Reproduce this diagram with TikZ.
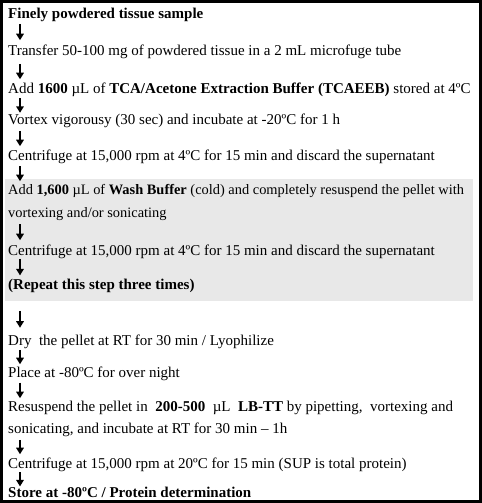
\documentclass[tikz,border=0pt]{standalone}
\usepackage{fontspec}
\setmainfont{Liberation Serif}
\usetikzlibrary{arrows.meta}
\definecolor{washgray}{RGB}{232,232,232}
\tikzset{
  stepnode/.style={anchor=base west, inner sep=0pt, align=left,
    font=\fontsize{15bp}{22bp}\selectfont},
  flow/.style={line width=1.8bp, -{Triangle[length=6.5bp,width=7.5bp]}},
}

\begin{document}
\begin{tikzpicture}[x=1bp,y=-1bp]
  \useasboundingbox (0,0) rectangle (482,503);
  % wash block and frame
  \fill[washgray] (5,179) rectangle (473,301);
  \draw[line width=3bp] (1.5,1.5) rectangle (480.5,501.5);

  \node[stepnode] (sample) at (8,19) {\textbf{Finely powdered tissue sample}};
  \node[stepnode] (transfer) at (8,56) {Transfer 50-100 mg of powdered tissue in a 2 mL microfuge tube};
  \node[stepnode] (tcaeeb) at (8,94) {Add \textbf{1600} µL of \textbf{TCA/Acetone Extraction Buffer (TCAEEB)} stored at 4ºC};
  \node[stepnode] (vortex) at (8,125) {Vortex vigorousy (30 sec) and incubate at -20ºC for 1 h};
  \node[stepnode] (spinA) at (8,161) {Centrifuge at 15,000 rpm at 4ºC for 15 min and discard the supernatant};
  \node[stepnode, font=\fontsize{14.4bp}{22bp}\selectfont] (wash) at (8,217) {Add \textbf{1,600} µL of \textbf{Wash Buffer} (cold) and completely resuspend the pellet with\\vortexing and/or sonicating};
  \node[stepnode] (spinB) at (8,255) {Centrifuge at 15,000 rpm at 4ºC for 15 min and discard the supernatant};
  \node[stepnode] (repeat) at (8,289) {\textbf{(Repeat this step three times)}};
  \node[stepnode] (dry) at (8,345) {Dry\ \ the pellet at RT for 30 min / Lyophilize};
  \node[stepnode] (freeze) at (8,377) {Place at -80ºC for over night};
  \node[stepnode] (lbtt) at (8,433) {Resuspend the pellet in\ \ \textbf{200-500}\ \ µL\ \ \textbf{LB-TT} by pipetting,\ \ vortexing and\\sonicating, and incubate at RT for 30 min – 1h};
  \node[stepnode] (spinC) at (8,468) {Centrifuge at 15,000 rpm at 20ºC for 15 min (SUP is total protein)};
  \node[stepnode] (store) at (8,497) {\textbf{Store at -80ºC / Protein determination}};

  % from/to/gap under/gap over
  \foreach \a/\b/\s/\t in {sample/transfer/1.5/5, transfer/tcaeeb/4.5/4, tcaeeb/vortex/1/1.4,
      vortex/spinA/2.5/4, spinA/wash/2/3.5, wash/spinB/4/4, spinB/repeat/0.5/3,
      repeat/dry/18.5/6.5, dry/freeze/1.5/2, freeze/lbtt/2.2/2.2, lbtt/spinC/3.5/3, spinC/store/0.8/0}
    \draw[flow, shorten <=\s bp, shorten >=\t bp] ([xshift=12bp]\a.south west) -- ([xshift=12bp]\b.north west);
\end{tikzpicture}
\end{document}
